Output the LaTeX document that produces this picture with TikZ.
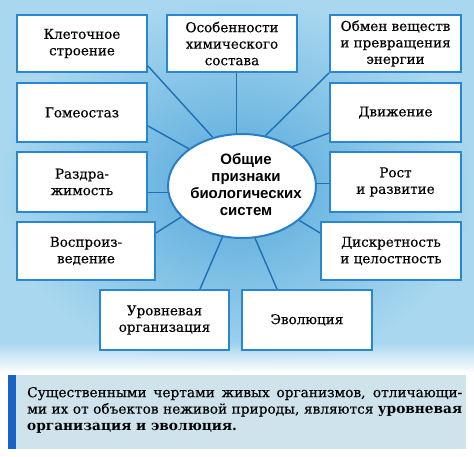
\documentclass[tikz,border=0pt]{standalone}
\usepackage{fontspec}
\setmainfont{DejaVu Serif}
\newfontfamily\boxfont{DejaVu Serif}[FakeBold=0.35, BoldFeatures={FakeBold=0}]
\newfontfamily\ellfont{Liberation Sans}
\usetikzlibrary{shapes.geometric,calc,fadings}
\definecolor{boxblue}{HTML}{2A86CF}
\definecolor{linkblue}{HTML}{1F6FB5}
\definecolor{ellblue}{HTML}{2A7FC4}
\definecolor{bgin}{HTML}{55A9DB}
\definecolor{bgout}{HTML}{A8D7EF}
\definecolor{notebg}{HTML}{CFE3ED}
\definecolor{barblue}{HTML}{1A63C4}
\pgfdeclarelayer{bg}
\pgfdeclarelayer{links}
\pgfsetlayers{bg,links,main}
\begin{document}
\begin{tikzpicture}[x=1pt,y=-1pt,
  feat/.style={draw=boxblue, line width=1.8pt, fill=white, minimum width=130pt,
    minimum height=58pt, inner sep=2pt, align=center,
    font=\boxfont\fontsize{13.5}{16.5}\selectfont},
  link/.style={draw=linkblue, line width=1.4pt}]
\useasboundingbox (0,0) rectangle (474,456);
% background
\begin{pgfonlayer}{bg}
\shade[inner color=bgin, outer color=bgout] (0,0) rectangle (474,372);
\fill[white, path fading=north] (0,342) rectangle (474,373);
\fill[notebg] (8,375) rectangle (466,449);
\fill[barblue] (8,375) rectangle (16,449);
\end{pgfonlayer}
% centre
\node[ellipse, draw=ellblue, line width=2pt, fill=white, minimum width=148pt,
  minimum height=104pt, inner sep=0pt] (ell) at (242,186) {};
\node[font=\ellfont\bfseries\fontsize{15}{17}\selectfont, align=center]
  (elltext) at (246,185) {Общие\\признаки\\биологических\\систем};
% boxes
\node[feat, minimum height=57pt] (klet) at (82,43.5) {Клеточное\\строение};
\node[feat, minimum height=57pt] (osob) at (232,43.5) {Особенности\\химического\\состава};
\node[feat, minimum height=57pt, minimum width=131pt] (obmen) at (395.5,43.5) {Обмен веществ\\и превращения\\энергии};
\node[feat, minimum height=59pt] (gomeo) at (82,112.5) {Гомеостаз};
\node[feat, minimum height=59pt, minimum width=131pt] (dvizh) at (395.5,112.5) {Движение};
\node[feat, minimum height=60pt] (razdr) at (82,182) {Раздра-\\жимость};
\node[feat, minimum height=60pt, minimum width=131pt] (rost) at (395.5,182) {Рост\\и развитие};
\node[feat, minimum width=138pt] (vospr) at (86,251) {Воспроиз-\\ведение};
\node[feat, minimum width=140pt] (diskr) at (391,251) {Дискретность\\и целостность};
\node[feat, minimum height=60pt, minimum width=129pt] (urov) at (164.5,320) {Уровневая\\организация};
\node[feat, minimum height=60pt] (evol) at (307,320) {Эволюция};
% links
\begin{pgfonlayer}{links}
\draw[link] (ell.121) -- ($(klet.south east)+(0,-7)$);
\draw[link] (ell.145) -- ($(gomeo.south east)+(0,-17)$);
\draw[link] (ell.185) -- (razdr.east |- ell.185);
\draw[link] (ell.207) -- ($(vospr.east)+(0,-18)$);
\draw[link] (ell.249) -- ($(urov.north)+(35.5,0)$);
\draw[link] (ell.284) -- ($(evol.north)+(-30,0)$);
\draw[link] (ell.329) -- ($(diskr.west)+(0,-18)$);
\draw[link] (ell.2) -- (rost.west |- ell.2);
\draw[link] (ell.38) -- ($(dvizh.west)+(0,20.5)$);
\draw[link] (ell.65) -- (obmen.south west);
\draw[link] (ell.96) -- (osob.south -| ell.96);
\end{pgfonlayer}
% note
\node[font=\boxfont\fontsize{13.7}{16.5}\selectfont, align=left, anchor=west, inner sep=0pt]
  (note) at (27,410) {\makebox[435pt][s]{Существенными чертами живых организмов, отличающи-}\\
  \makebox[435pt][s]{ми их от объектов неживой природы, являются \textbf{уровневая}}\\
  \textbf{организация и эволюция.}};
\end{tikzpicture}
\end{document}
